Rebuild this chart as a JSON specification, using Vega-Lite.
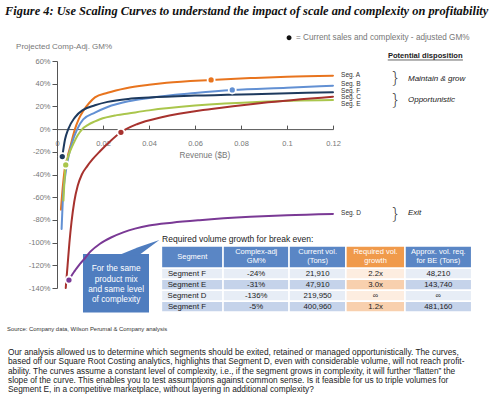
{
  "$schema": "https://vega.github.io/schema/vega-lite/v6.json",
  "width": 276,
  "height": 227,
  "autosize": {"type": "none"},
  "padding": {"left": 57, "top": 61, "right": 167, "bottom": 118},
  "background": "#ffffff",
  "config": {"view": {"stroke": null}, "font": "Liberation Sans"},
  "datasets": {
    "curves": [
      {"seg": "A", "x": 0.0017, "y": -71}, {"seg": "A", "x": 0.0022, "y": -58}, {"seg": "A", "x": 0.0028, "y": -45},
      {"seg": "A", "x": 0.0035, "y": -33}, {"seg": "A", "x": 0.0045, "y": -25}, {"seg": "A", "x": 0.0057, "y": -16},
      {"seg": "A", "x": 0.0078, "y": 0}, {"seg": "A", "x": 0.0095, "y": 9}, {"seg": "A", "x": 0.0114, "y": 16},
      {"seg": "A", "x": 0.014, "y": 23}, {"seg": "A", "x": 0.0165, "y": 28}, {"seg": "A", "x": 0.022, "y": 32},
      {"seg": "A", "x": 0.03, "y": 36}, {"seg": "A", "x": 0.04, "y": 39}, {"seg": "A", "x": 0.0477, "y": 40.8},
      {"seg": "A", "x": 0.067, "y": 43.3}, {"seg": "A", "x": 0.085, "y": 45}, {"seg": "A", "x": 0.1, "y": 46.2},
      {"seg": "A", "x": 0.12, "y": 47.1},
      {"seg": "B", "x": 0.002, "y": -88}, {"seg": "B", "x": 0.0027, "y": -57}, {"seg": "B", "x": 0.0035, "y": -42},
      {"seg": "B", "x": 0.0045, "y": -29}, {"seg": "B", "x": 0.0064, "y": -13}, {"seg": "B", "x": 0.0088, "y": 0},
      {"seg": "B", "x": 0.0114, "y": 8.5}, {"seg": "B", "x": 0.0165, "y": 14.5}, {"seg": "B", "x": 0.022, "y": 19.5},
      {"seg": "B", "x": 0.031, "y": 24.5}, {"seg": "B", "x": 0.04, "y": 27.5}, {"seg": "B", "x": 0.06, "y": 31.8},
      {"seg": "B", "x": 0.0762, "y": 34.5}, {"seg": "B", "x": 0.1, "y": 36.5}, {"seg": "B", "x": 0.12, "y": 38.3},
      {"seg": "F", "x": 0.0023, "y": -24.2}, {"seg": "F", "x": 0.0035, "y": -9}, {"seg": "F", "x": 0.0049, "y": 0},
      {"seg": "F", "x": 0.0078, "y": 10.4}, {"seg": "F", "x": 0.0114, "y": 17}, {"seg": "F", "x": 0.0165, "y": 21},
      {"seg": "F", "x": 0.022, "y": 24}, {"seg": "F", "x": 0.031, "y": 26.6}, {"seg": "F", "x": 0.04, "y": 27.8},
      {"seg": "F", "x": 0.06, "y": 29.5}, {"seg": "F", "x": 0.089, "y": 31}, {"seg": "F", "x": 0.12, "y": 32.5},
      {"seg": "E", "x": 0.0028, "y": -63}, {"seg": "E", "x": 0.0031, "y": -51}, {"seg": "E", "x": 0.0034, "y": -41},
      {"seg": "E", "x": 0.0038, "y": -31.6}, {"seg": "E", "x": 0.0046, "y": -25.5}, {"seg": "E", "x": 0.0057, "y": -19.5},
      {"seg": "E", "x": 0.0071, "y": -13}, {"seg": "E", "x": 0.009, "y": -5.5}, {"seg": "E", "x": 0.011, "y": 0},
      {"seg": "E", "x": 0.0135, "y": 3.8}, {"seg": "E", "x": 0.0165, "y": 6.8}, {"seg": "E", "x": 0.0187, "y": 8.7},
      {"seg": "E", "x": 0.026, "y": 12.3}, {"seg": "E", "x": 0.031, "y": 13.8}, {"seg": "E", "x": 0.04, "y": 16.5},
      {"seg": "E", "x": 0.06, "y": 20.7}, {"seg": "E", "x": 0.089, "y": 24.2}, {"seg": "E", "x": 0.12, "y": 25.7},
      {"seg": "C", "x": 0.0038, "y": -140}, {"seg": "C", "x": 0.0046, "y": -120}, {"seg": "C", "x": 0.0054, "y": -100},
      {"seg": "C", "x": 0.0063, "y": -82}, {"seg": "C", "x": 0.0075, "y": -64}, {"seg": "C", "x": 0.009, "y": -50},
      {"seg": "C", "x": 0.0108, "y": -40}, {"seg": "C", "x": 0.013, "y": -33}, {"seg": "C", "x": 0.0155, "y": -26.5},
      {"seg": "C", "x": 0.0187, "y": -19.5}, {"seg": "C", "x": 0.0235, "y": -10}, {"seg": "C", "x": 0.0278, "y": -2.8},
      {"seg": "C", "x": 0.035, "y": 4.5}, {"seg": "C", "x": 0.0455, "y": 10.4}, {"seg": "C", "x": 0.0672, "y": 17.8},
      {"seg": "C", "x": 0.089, "y": 23.1}, {"seg": "C", "x": 0.12, "y": 28.6},
      {"seg": "D", "x": 0.0052, "y": -133}, {"seg": "D", "x": 0.0065, "y": -128.5}, {"seg": "D", "x": 0.0078, "y": -124.7},
      {"seg": "D", "x": 0.0095, "y": -120}, {"seg": "D", "x": 0.0114, "y": -115.5}, {"seg": "D", "x": 0.0145, "y": -108},
      {"seg": "D", "x": 0.0187, "y": -101}, {"seg": "D", "x": 0.0235, "y": -95.5}, {"seg": "D", "x": 0.0288, "y": -91},
      {"seg": "D", "x": 0.04, "y": -85}, {"seg": "D", "x": 0.05, "y": -82.5}, {"seg": "D", "x": 0.062, "y": -80.3},
      {"seg": "D", "x": 0.084, "y": -77.3}, {"seg": "D", "x": 0.1, "y": -75.8}, {"seg": "D", "x": 0.12, "y": -74.7}
    ],
    "dots": [
      {"seg": "A", "x": 0.067, "y": 43.3}, {"seg": "B", "x": 0.0762, "y": 34.5}, {"seg": "F", "x": 0.0023, "y": -24.2},
      {"seg": "E", "x": 0.0038, "y": -31.6}, {"seg": "C", "x": 0.0278, "y": -2.8}, {"seg": "D", "x": 0.0052, "y": -133}
    ],
    "keydot": [{"x": 0.1009, "y": 80.5}],
    "title": [{"x": -0.0226, "y": 100.5, "text": "Figure 4: Use Scaling Curves to understand the impact of scale and complexity on profitability"}],
    "ytitle": [{"x": -0.0178, "y": 72.3, "text": "Projected Comp-Adj. GM%"}],
    "xtitle": [{"x": 0.0643, "y": -23.7, "text": "Revenue ($B)"}],
    "keytext": [{"x": 0.1039, "y": 80.5, "text": "= Current sales and complexity - adjusted GM%"}],
    "disphead": [{"x": 0.1601, "y": 64.4, "text": "Potential disposition"}],
    "underline": [{"x": 0.1438, "x2": 0.1765, "y": 60.9}],
    "seglabels": [
      {"x": 0.1235, "y": 47.7, "text": "Seg. A"}, {"x": 0.1235, "y": 39.6, "text": "Seg. B"},
      {"x": 0.1235, "y": 33.9, "text": "Seg. F"}, {"x": 0.1235, "y": 28.2, "text": "Seg. C"},
      {"x": 0.1235, "y": 22.5, "text": "Seg. E"}, {"x": 0.1235, "y": -74.2, "text": "Seg. D"}
    ],
    "braces": [
      {"x": 0.147, "y": 44.6, "text": "}"}, {"x": 0.147, "y": 25.6, "text": "}"}, {"x": 0.147, "y": -74.6, "text": "}"}
    ],
    "disp": [
      {"x": 0.1526, "y": 44.1, "text": "Maintain & grow"}, {"x": 0.1526, "y": 25.6, "text": "Opportunistic"},
      {"x": 0.1526, "y": -73.9, "text": "Exit"}
    ],
    "tabletitle": [{"x": 0.0457, "y": -97.1, "text": "Required volume growth for break even:"}],
    "cells": [
      {"x": 0.0454, "x2": 0.0722, "y": -103, "y2": -122.6, "band": "head"},
      {"x": 0.0722, "x2": 0.1009, "y": -103, "y2": -122.6, "band": "head"},
      {"x": 0.1009, "x2": 0.1256, "y": -103, "y2": -122.6, "band": "head"},
      {"x": 0.1256, "x2": 0.1513, "y": -103, "y2": -122.6, "band": "headreq"},
      {"x": 0.1513, "x2": 0.1803, "y": -103, "y2": -122.6, "band": "head"},
      {"x": 0.0454, "x2": 0.0722, "y": -122.6, "y2": -132.3, "band": "light"},
      {"x": 0.0722, "x2": 0.1009, "y": -122.6, "y2": -132.3, "band": "light"},
      {"x": 0.1009, "x2": 0.1256, "y": -122.6, "y2": -132.3, "band": "light"},
      {"x": 0.1256, "x2": 0.1513, "y": -122.6, "y2": -132.3, "band": "reqlight"},
      {"x": 0.1513, "x2": 0.1803, "y": -122.6, "y2": -132.3, "band": "light"},
      {"x": 0.0454, "x2": 0.0722, "y": -132.3, "y2": -142, "band": "mid"},
      {"x": 0.0722, "x2": 0.1009, "y": -132.3, "y2": -142, "band": "mid"},
      {"x": 0.1009, "x2": 0.1256, "y": -132.3, "y2": -142, "band": "mid"},
      {"x": 0.1256, "x2": 0.1513, "y": -132.3, "y2": -142, "band": "reqmid"},
      {"x": 0.1513, "x2": 0.1803, "y": -132.3, "y2": -142, "band": "mid"},
      {"x": 0.0454, "x2": 0.0722, "y": -142, "y2": -151.7, "band": "light"},
      {"x": 0.0722, "x2": 0.1009, "y": -142, "y2": -151.7, "band": "light"},
      {"x": 0.1009, "x2": 0.1256, "y": -142, "y2": -151.7, "band": "light"},
      {"x": 0.1256, "x2": 0.1513, "y": -142, "y2": -151.7, "band": "reqlight"},
      {"x": 0.1513, "x2": 0.1803, "y": -142, "y2": -151.7, "band": "light"},
      {"x": 0.0454, "x2": 0.0722, "y": -151.7, "y2": -161.1, "band": "mid"},
      {"x": 0.0722, "x2": 0.1009, "y": -151.7, "y2": -161.1, "band": "mid"},
      {"x": 0.1009, "x2": 0.1256, "y": -151.7, "y2": -161.1, "band": "mid"},
      {"x": 0.1256, "x2": 0.1513, "y": -151.7, "y2": -161.1, "band": "reqmid"},
      {"x": 0.1513, "x2": 0.1803, "y": -151.7, "y2": -161.1, "band": "mid"}
    ],
    "headtext": [
      {"x": 0.0588, "y": -112.8, "text": "Segment"},
      {"x": 0.0866, "y": -108, "text": "Complex-adj"}, {"x": 0.0866, "y": -115.9, "text": "GM%"},
      {"x": 0.1133, "y": -108, "text": "Current vol."}, {"x": 0.1133, "y": -115.9, "text": "(Tons)"},
      {"x": 0.1385, "y": -108, "text": "Required vol."}, {"x": 0.1385, "y": -115.9, "text": "growth"},
      {"x": 0.1658, "y": -108, "text": "Approx. vol. req."}, {"x": 0.1658, "y": -115.9, "text": "for BE (Tons)"}
    ],
    "bodytext": [
      {"x": 0.0565, "y": -127.45, "text": "Segment F"}, {"x": 0.0866, "y": -127.45, "text": "-24%"},
      {"x": 0.1133, "y": -127.45, "text": "21,910"}, {"x": 0.1385, "y": -127.45, "text": "2.2x"},
      {"x": 0.1658, "y": -127.45, "text": "48,210"},
      {"x": 0.0565, "y": -137.15, "text": "Segment E"}, {"x": 0.0866, "y": -137.15, "text": "-31%"},
      {"x": 0.1133, "y": -137.15, "text": "47,910"}, {"x": 0.1385, "y": -137.15, "text": "3.0x"},
      {"x": 0.1658, "y": -137.15, "text": "143,740"},
      {"x": 0.0565, "y": -146.85, "text": "Segment D"}, {"x": 0.0866, "y": -146.85, "text": "-136%"},
      {"x": 0.1133, "y": -146.85, "text": "219,950"}, {"x": 0.1385, "y": -146.85, "text": "∞"},
      {"x": 0.1658, "y": -146.85, "text": "∞"},
      {"x": 0.0565, "y": -156.4, "text": "Segment F"}, {"x": 0.0866, "y": -156.4, "text": "-5%"},
      {"x": 0.1133, "y": -156.4, "text": "400,960"}, {"x": 0.1385, "y": -156.4, "text": "1.2x"},
      {"x": 0.1658, "y": -156.4, "text": "481,160"}
    ],
    "callout": [{"x": 0.0113, "x2": 0.04, "y": -110, "y2": -161.6}],
    "pointer": [
      {"x": 0.0281, "y": -110, "y2": -111.5},
      {"x": 0.0353, "y": -104.2, "y2": -111.5},
      {"x": 0.0445, "y": -97.7, "y2": -97.7}
    ],
    "callouttext": [
      {"x": 0.0257, "y": -123.5, "text": "For the same"}, {"x": 0.0257, "y": -133, "text": "product mix"},
      {"x": 0.0257, "y": -141.8, "text": "and same level"}, {"x": 0.0257, "y": -150.8, "text": "of complexity"}
    ],
    "source": [{"x": -0.0217, "y": -176.4, "text": "Source: Company data, Wilson Perumal & Company analysis"}],
    "para": [
      {"x": -0.0213, "y": -197.5, "text": "Our analysis allowed us to determine which segments should be exited, retained or managed opportunistically. The curves,"},
      {"x": -0.0213, "y": -205.5, "text": "based off our Square Root Costing analytics, highlights that Segment D, even with considerable volume, will not reach profit-"},
      {"x": -0.0213, "y": -213.8, "text": "ability. The curves assume a constant level of complexity, i.e., if the segment grows in complexity, it will further “flatten” the"},
      {"x": -0.0213, "y": -221.7, "text": "slope of the curve. This enables you to test assumptions against common sense. Is it feasible for us to triple volumes for"},
      {"x": -0.0213, "y": -229.9, "text": "Segment E, in a competitive marketplace, without layering in additional complexity?"}
    ]
  },
  "encoding": {
    "x": {
      "field": "x",
      "type": "quantitative",
      "scale": {"domain": [0, 0.12], "nice": false, "zero": false},
      "axis": {
        "title": null,
        "values": [0, 0.02, 0.04, 0.06, 0.08, 0.1, 0.12],
        "labelExpr": "'' + datum.value",
        "offset": -158.9,
        "grid": false,
        "domainColor": "#555555",
        "tickColor": "#555555",
        "tickSize": -4,
        "labelPadding": 14,
        "labelFlush": false,
        "labelOverlap": false,
        "labelFont": "Liberation Sans",
        "labelFontSize": 7.5,
        "labelColor": "#777777"
      }
    },
    "y": {
      "field": "y",
      "type": "quantitative",
      "scale": {"domain": [-140, 60], "nice": false, "zero": false},
      "axis": {
        "title": null,
        "values": [-140, -120, -100, -80, -60, -40, -20, 0, 20, 40, 60],
        "labelExpr": "datum.value + '%'",
        "grid": false,
        "domainColor": "#555555",
        "tickColor": "#555555",
        "tickSize": 5,
        "labelPadding": 2,
        "labelOverlap": false,
        "labelFont": "Liberation Sans",
        "labelFontSize": 7.5,
        "labelColor": "#777777"
      }
    }
  },
  "layer": [
    {
      "data": {"name": "cells"},
      "mark": {"type": "rect", "stroke": "#ffffff", "strokeWidth": 1.5},
      "encoding": {
        "x2": {"field": "x2"},
        "y2": {"field": "y2"},
        "fill": {
          "field": "band",
          "type": "nominal",
          "scale": {
            "domain": ["head", "headreq", "light", "mid", "reqlight", "reqmid"],
            "range": ["#5A86C5", "#F09A4B", "#E7EDF6", "#C5D3EA", "#FDEDE0", "#F8D0AE"]
          },
          "legend": null
        }
      }
    },
    {
      "data": {"name": "callout"},
      "mark": {"type": "rect", "color": "#4F7DBF"},
      "encoding": {"x2": {"field": "x2"}, "y2": {"field": "y2"}}
    },
    {
      "data": {"name": "pointer"},
      "mark": {"type": "area", "color": "#4F7DBF", "opacity": 1},
      "encoding": {"y2": {"field": "y2"}}
    },
    {
      "data": {"name": "curves"},
      "mark": {"type": "line", "interpolate": "monotone", "strokeWidth": 2, "strokeCap": "round"},
      "encoding": {
        "color": {
          "field": "seg",
          "type": "nominal",
          "scale": {
            "domain": ["A", "B", "F", "C", "E", "D"],
            "range": ["#E8741E", "#6290D3", "#1E3A5E", "#A7322E", "#AAC64C", "#7A3995"]
          },
          "legend": null
        }
      }
    },
    {
      "data": {"name": "dots"},
      "mark": {"type": "point", "filled": true, "size": 50, "stroke": "#ffffff", "strokeWidth": 1.8, "opacity": 1},
      "encoding": {"color": {"field": "seg", "type": "nominal", "legend": null}}
    },
    {
      "data": {"name": "keydot"},
      "mark": {"type": "point", "filled": true, "size": 45, "color": "#111111", "stroke": "#ffffff", "strokeWidth": 1.8, "opacity": 1}
    },
    {
      "data": {"name": "title"},
      "mark": {"type": "text", "align": "left", "baseline": "alphabetic", "font": "Liberation Sans Narrow", "fontSize": 12.4, "fontWeight": "bold", "fontStyle": "italic", "color": "#111111"},
      "encoding": {"text": {"field": "text"}}
    },
    {
      "data": {"name": "ytitle"},
      "mark": {"type": "text", "align": "left", "baseline": "middle", "fontSize": 8, "color": "#777777"},
      "encoding": {"text": {"field": "text"}}
    },
    {
      "data": {"name": "xtitle"},
      "mark": {"type": "text", "align": "center", "baseline": "middle", "fontSize": 8.2, "color": "#777777"},
      "encoding": {"text": {"field": "text"}}
    },
    {
      "data": {"name": "keytext"},
      "mark": {"type": "text", "align": "left", "baseline": "middle", "fontSize": 8.2, "color": "#777777"},
      "encoding": {"text": {"field": "text"}}
    },
    {
      "data": {"name": "disphead"},
      "mark": {"type": "text", "align": "center", "baseline": "middle", "fontSize": 7.6, "fontWeight": "bold", "color": "#222222"},
      "encoding": {"text": {"field": "text"}}
    },
    {
      "data": {"name": "underline"},
      "mark": {"type": "rule", "color": "#222222", "strokeWidth": 0.7},
      "encoding": {"x2": {"field": "x2"}}
    },
    {
      "data": {"name": "seglabels"},
      "mark": {"type": "text", "align": "left", "baseline": "middle", "fontSize": 6.5, "color": "#333333"},
      "encoding": {"text": {"field": "text"}}
    },
    {
      "data": {"name": "braces"},
      "mark": {"type": "text", "align": "center", "baseline": "middle", "font": "Open Sans", "fontWeight": 300, "fontSize": 16, "color": "#333333"},
      "encoding": {"text": {"field": "text"}}
    },
    {
      "data": {"name": "disp"},
      "mark": {"type": "text", "align": "left", "baseline": "middle", "fontSize": 8, "fontStyle": "italic", "color": "#222222"},
      "encoding": {"text": {"field": "text"}}
    },
    {
      "data": {"name": "tabletitle"},
      "mark": {"type": "text", "align": "left", "baseline": "middle", "fontSize": 8.5, "color": "#222222"},
      "encoding": {"text": {"field": "text"}}
    },
    {
      "data": {"name": "headtext"},
      "mark": {"type": "text", "align": "center", "baseline": "middle", "fontSize": 7.5, "color": "#ffffff"},
      "encoding": {"text": {"field": "text"}}
    },
    {
      "data": {"name": "bodytext"},
      "mark": {"type": "text", "align": "center", "baseline": "middle", "fontSize": 7.8, "color": "#222222"},
      "encoding": {"text": {"field": "text"}}
    },
    {
      "data": {"name": "callouttext"},
      "mark": {"type": "text", "align": "center", "baseline": "middle", "fontSize": 8.3, "color": "#ffffff"},
      "encoding": {"text": {"field": "text"}}
    },
    {
      "data": {"name": "source"},
      "mark": {"type": "text", "align": "left", "baseline": "middle", "fontSize": 5.9, "color": "#333333"},
      "encoding": {"text": {"field": "text"}}
    },
    {
      "data": {"name": "para"},
      "mark": {"type": "text", "align": "left", "baseline": "middle", "fontSize": 8.3, "color": "#222222"},
      "encoding": {"text": {"field": "text"}}
    }
  ]
}
